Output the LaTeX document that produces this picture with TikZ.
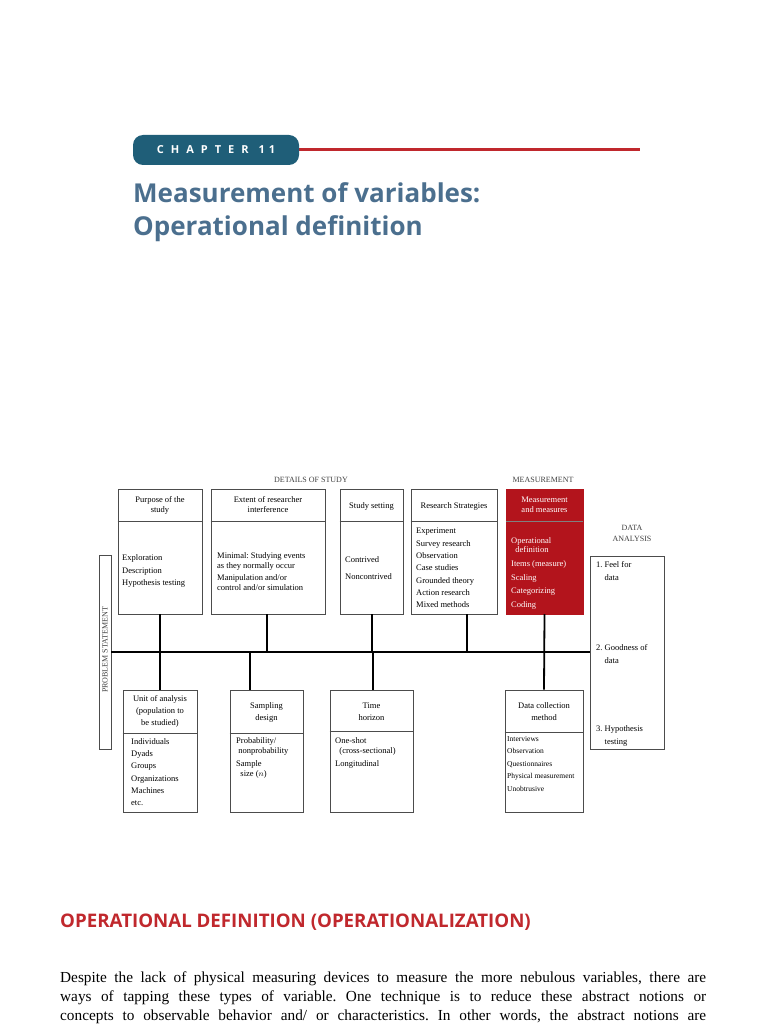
\documentclass[tikz,border=0pt]{standalone}
\usepackage{fontspec}
\setmainfont{Liberation Serif}
\newfontfamily\titlefont{Open Sans}
\usetikzlibrary{positioning}
\definecolor{teal1}{HTML}{1F5E78}
\definecolor{titleblue}{HTML}{4B6F8E}
\definecolor{mred}{HTML}{B3141C}
\definecolor{hred}{HTML}{C0282D}
\tikzset{
  box/.style={draw=black!70, line width=0.6pt, inner sep=0pt},
  redbox/.style={draw=mred, fill=mred, inner sep=0pt},
  hdr/.style={font=\fontsize{8.5}{10}\selectfont, align=center, inner sep=0pt},
  body/.style={font=\fontsize{8.5}{12.3}\selectfont, align=left, anchor=west, inner sep=0pt},
  conn/.style={line width=1.8pt, black},
  captxt/.style={font=\fontsize{8}{11}\selectfont, align=center, inner sep=0pt, text=black!75}
}
\frenchspacing
\begin{document}
\begin{tikzpicture}[x=1pt,y=-1pt]
\useasboundingbox (0,0) rectangle (768,1024);
\clip (0,0) rectangle (768,1024);
% banner
\draw[hred, line width=3pt] (290,150) -- (640,150);
\node[fill=teal1, rounded corners=10pt, minimum width=166, minimum height=30, inner sep=0pt, text=white, font=\titlefont\bfseries\fontsize{11}{12}\selectfont] (chap) at (216,150) {C\hspace{7pt}H\hspace{7pt}A\hspace{7pt}P\hspace{7pt}T\hspace{7pt}E\hspace{7pt}R\hspace{10pt}1\hspace{4pt}1};
\node[anchor=west, text=titleblue, font=\titlefont\bfseries\fontsize{26}{33}\selectfont, align=left, inner sep=0pt] (title) at (133,212) {Measurement of variables:\\Operational definition};
% captions
\node[captxt] (cds) at (311,480) {DETAILS OF STUDY};
\node[captxt] (cms) at (543,480) {MEASUREMENT};
\node[captxt] (cda) at (632,533) {DATA\\ANALYSIS};
% top boxes
\node[box, minimum width=84, minimum height=125] (t1) at (160,551.5) {};
\node[box, minimum width=114, minimum height=125] (t2) at (268,551.5) {};
\node[box, minimum width=63, minimum height=125] (t3) at (371.5,551.5) {};
\node[box, minimum width=86, minimum height=125] (t4) at (454,551.5) {};
\node[redbox, minimum width=77, minimum height=125] (t5) at (544.5,551.5) {};
\foreach \n in {t1,t2,t3,t4}{\draw[black!70, line width=0.6pt] (\n.west |- 0,521) -- (\n.east |- 0,521);}
\draw[black!50, line width=0.5pt] (t5.west |- 0,521) -- (t5.east |- 0,521);
\node[hdr] (h1) at (160,505) {Purpose of the\\study};
\node[hdr] (h2) at (268,505) {Extent of researcher\\interference};
\node[hdr] (h3) at (371.5,506) {Study setting};
\node[hdr] (h4) at (454,506) {Research Strategies};
\node[hdr, text=white] (h5) at (544.5,505) {Measurement\\and measures};
\node[body] (b1) at (122,571) {Exploration\\Description\\Hypothesis testing};
\node[body, font=\fontsize{8.5}{10}\selectfont] (b2) at (217,572) {Minimal: Studying events\\as they normally occur\\[2pt]Manipulation and/or\\control and/or simulation};
\node[body, font=\fontsize{8.5}{17}\selectfont] (b3) at (345,568) {Contrived\\Noncontrived};
\node[body] (b4) at (416,568) {Experiment\\Survey research\\Observation\\Case studies\\Grounded theory\\Action research\\Mixed methods};
\node[body, text=white, font=\fontsize{8.5}{8.5}\selectfont] (b5a) at (511,545) {Operational\\\ \ definition};
\node[body, text=white, font=\fontsize{8.5}{13.5}\selectfont] (b5b) at (511,585) {Items (measure)\\Scaling\\Categorizing\\Coding};
% side boxes
\node[box, minimum width=12, minimum height=194] (ps) at (105,652) {};
\node[rotate=90, font=\fontsize{8}{8}\selectfont, text=black!75, inner sep=0pt] (pst) at (105,650) {PROBLEM STATEMENT};
\node[box, minimum width=74, minimum height=193] (da) at (627,652.5) {};
\node[body, font=\fontsize{8.5}{12.5}\selectfont] (d1) at (596,571) {1. Feel for\\\ \ \ \ data};
\node[body, font=\fontsize{8.5}{12.5}\selectfont] (d2) at (596,654) {2. Goodness of\\\ \ \ \ data};
\node[body, font=\fontsize{8.5}{12.5}\selectfont] (d3) at (596,736) {3. Hypothesis\\\ \ \ \ testing};
% bottom boxes
\node[box, minimum width=74, minimum height=122] (u1) at (160,751) {};
\node[box, minimum width=73, minimum height=122] (u2) at (266.5,751) {};
\node[box, minimum width=83, minimum height=122] (u3) at (371.5,751) {};
\node[box, minimum width=78, minimum height=122] (u4) at (544,751) {};
\draw[black!70, line width=0.6pt] (u1.west |- 0,733) -- (u1.east |- 0,733);
\draw[black!70, line width=0.6pt] (u2.west |- 0,733) -- (u2.east |- 0,733);
\draw[black!70, line width=0.6pt] (u3.west |- 0,731) -- (u3.east |- 0,731);
\draw[black!70, line width=0.6pt] (u4.west |- 0,732) -- (u4.east |- 0,732);
\node[hdr, font=\fontsize{8.5}{12}\selectfont] (uh1) at (160,711) {Unit of analysis\\(population to\\be studied)};
\node[hdr, font=\fontsize{8.5}{12}\selectfont] (uh2) at (266.5,712) {Sampling\\design};
\node[hdr, font=\fontsize{8.5}{12}\selectfont] (uh3) at (371.5,712) {Time\\horizon};
\node[hdr, font=\fontsize{8.5}{12}\selectfont] (uh4) at (544,712) {Data collection\\method};
\node[body] (ub1) at (131,772) {Individuals\\Dyads\\Groups\\Organizations\\Machines\\etc.};
\node[body, font=\fontsize{8.5}{9.5}\selectfont] (ub2) at (236,758) {Probability/\\\ nonprobability\\[4pt]Sample\\\ \ size ($n$)};
\node[body, font=\fontsize{8.5}{9.5}\selectfont] (ub3) at (335,753) {One-shot\\\ \ (cross-sectional)\\[4pt]Longitudinal};
\node[body, font=\fontsize{7.5}{12.5}\selectfont] (ub4) at (507,764) {Interviews\\Observation\\Questionnaires\\Physical measurement\\Unobtrusive};
% spine
\coordinate (L) at (111,652);
\coordinate (R) at (590,652);
\draw[conn] (L) -- (R);
\foreach \t/\x in {t1/160,t2/267,t3/372,t4/467}{\draw[conn] (\t.south -| \x,0) -- (\x,652);}
\draw[conn] (t5.south) -- (u4.north);
\draw[conn] (160,652) -- (u1.north);
\draw[conn] (250,652) -- (u2.north -| 250,0);
\draw[conn] (373,652) -- (u3.north -| 373,0);
% bottom text
\node[anchor=west, text=hred, font=\titlefont\bfseries\fontsize{18.7}{20}\selectfont, inner sep=0pt] (sec) at (60,922) {OPERATIONAL DEFINITION (OPERATIONALIZATION)};
\node[anchor=north west, align=left, font=\fontsize{15.3}{19}\selectfont, inner sep=0pt] (para) at (60,972) {\makebox[646pt][s]{Despite the lack of physical measuring devices to measure the more nebulous variables, there are}\\\makebox[646pt][s]{ways of tapping these types of variable. One technique is to reduce these abstract notions or}\\\makebox[646pt][s]{concepts to observable behavior and/ or characteristics. In other words, the abstract notions are}};
\end{tikzpicture}
\end{document}
